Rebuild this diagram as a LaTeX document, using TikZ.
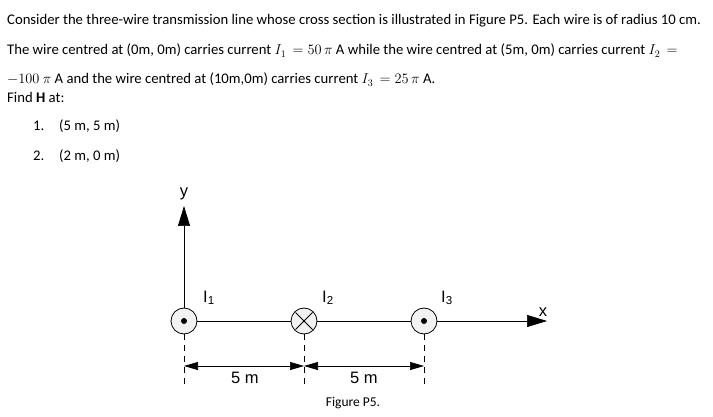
\documentclass[tikz,border=0pt]{standalone}
\usepackage{fontspec}
\setmainfont{Carlito}
\newfontfamily\arialf{Liberation Sans}
\usetikzlibrary{arrows.meta}
\begin{document}
\begin{tikzpicture}[x=1pt,y=-1pt,
  txt/.style={anchor=base west,inner sep=0pt,font=\fontsize{14.7}{17}\selectfont},
  lbl/.style={inner sep=0pt,font=\arialf\fontsize{16.5}{19}\selectfont},
  wire/.style={circle,draw,fill=gray!10,minimum size=26pt,inner sep=0pt,line width=0.8pt},
  axis/.style={line width=0.7pt,-{Triangle[length=20pt,width=12pt]}},
  dim/.style={line width=0.7pt,{Triangle[length=14pt,width=8pt]}-{Triangle[length=14pt,width=8pt]}},
  guide/.style={line width=0.7pt,dash pattern=on 6pt off 5pt}]
\useasboundingbox (0,0) rectangle (713,417);
\node[txt] (t1) at (7,25) {Consider the three-wire transmission line whose cross section is illustrated in Figure P5. Each wire is of radius 10 cm.};
\node[txt] (t2) at (7,55) {The wire centred at (0m, 0m) carries current $I_1\,=50\,\pi\ \mathrm{A}$ while the wire centred at (5m, 0m) carries current $I_2\,=$};
\node[txt] (t3) at (7,84) {$-100\ \pi\ \mathrm{A}$ and the wire centred at (10m,0m) carries current $I_3\,=25\,\pi\ \mathrm{A}$.};
\node[txt] (t4) at (7,103) {Find $\mathbf{H}$ at:};
\node[txt] (t5) at (33,131) {1.\quad(5 m, 5 m)};
\node[txt] (t6) at (33,161) {2.\quad(2 m, 0 m)};
% diagram
\coordinate (ytip) at (184,206);
\coordinate (xtip) at (547,321);
\node[wire] (w1) at (184,321) {};
\node[wire] (w2) at (304,321) {};
\node[wire] (w3) at (424,321) {};
\draw[axis] (w1.north) -- (ytip);
\draw[line width=0.7pt] (w1.east) -- (w2.west);
\draw[line width=0.7pt] (w2.east) -- (w3.west);
\draw[axis] (w3.east) -- (xtip);
\fill (w1.center) circle (3pt);
\fill (w3.center) circle (3pt);
\draw[line width=0.8pt] (w2.center) ++(-8.5,-8.5) -- ++(17,17) (w2.center) ++(8.5,-8.5) -- ++(-17,17);
\node[lbl] (ly) at (184,194) {y};
\node[lbl] (lx) at (543,312) {x};
\node[lbl] (l1) at (209,298) {I\textsubscript{1}};
\node[lbl] (l2) at (328,298) {I\textsubscript{2}};
\node[lbl] (l3) at (447,298) {I\textsubscript{3}};
\coordinate (d1) at (184,385);
\coordinate (d2) at (304,385);
\coordinate (d3) at (424,385);
\draw[guide] (w1.south) -- (d1);
\draw[guide] (w2.south) -- (d2);
\draw[guide] (w3.south) -- (d3);
\coordinate (a1) at (184,366);
\coordinate (a2) at (304,366);
\coordinate (a3) at (424,366);
\draw[dim] (a1) -- (a2);
\draw[dim] (a2) -- (a3);
\node[lbl] (m1) at (245,378) {5 m};
\node[lbl] (m2) at (364,378) {5 m};
\node[inner sep=0pt,font=\fontsize{13.5}{16}\selectfont] (cap) at (353,403) {Figure P5.};
\end{tikzpicture}
\end{document}
